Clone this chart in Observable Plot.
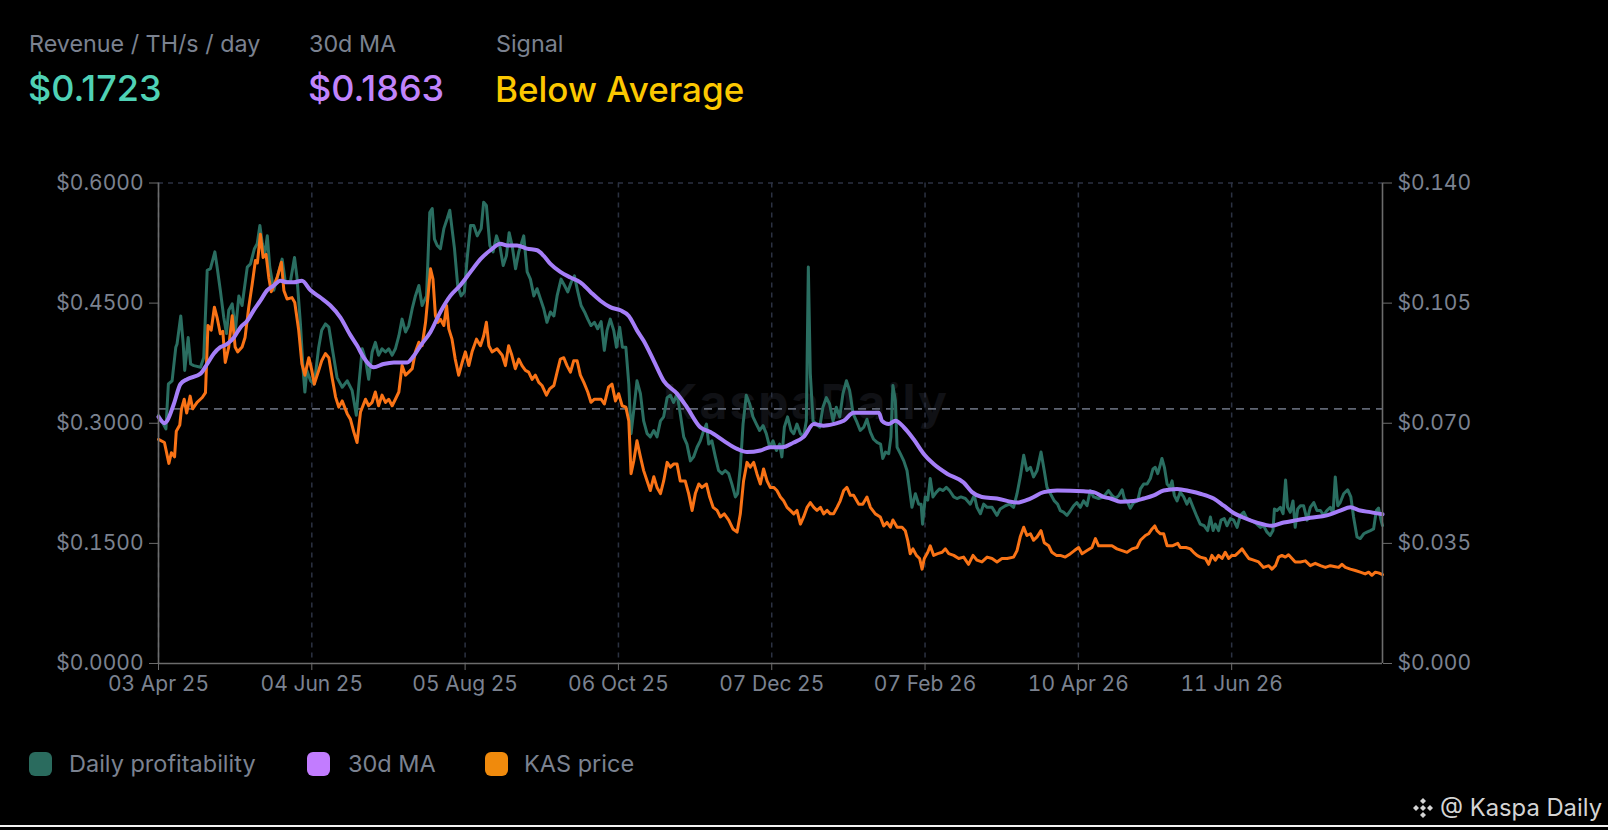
<!DOCTYPE html>
<html>
<head>
<meta charset="utf-8">
<script src="https://cdn.jsdelivr.net/npm/d3@7"></script>
<script src="https://cdn.jsdelivr.net/npm/@observablehq/plot@0.6"></script>
<style>
  html, body { margin:0; padding:0; background:#000; }
  #root { position:relative; width:1608px; height:830px; background:#000; overflow:hidden; font-family:Inter, "Noto Sans", sans-serif; }
  .lbl { position:absolute; font-size:23.3px; line-height:23px; color:#7b8290; white-space:nowrap; }
  .val { position:absolute; font-size:36px; line-height:36px; font-weight:500; white-space:nowrap; }
  .leg { position:absolute; font-size:23.5px; line-height:23px; color:#7b8290; white-space:nowrap; }
  .sw { position:absolute; width:23px; height:24px; border-radius:6px; }
  #chart { position:absolute; left:0; top:160px; z-index:2; }
  #chart svg { overflow:visible; }
  #wm { position:absolute; left:663px; top:378px; font-size:48px; line-height:48px; font-weight:700; letter-spacing:2px; color:#101115; z-index:1; }
  #brand { position:absolute; left:1412px; top:796px; font-size:23.8px; line-height:23px; color:#d4d4d4; white-space:nowrap; display:flex; align-items:center; gap:6px; }
  #bline { position:absolute; left:0; top:825px; width:1608px; height:2px; background:#f2f2f2; }
</style>
</head>
<body>
<div id="root">
  <div class="lbl" style="left:29px;top:32px">Revenue / TH/s / day</div>
  <div class="lbl" style="left:309px;top:32px">30d MA</div>
  <div class="lbl" style="left:496px;top:32px">Signal</div>
  <div class="val" id="v1" style="left:28px;top:70px;color:#4fd1b5"></div>
  <div class="val" id="v2" style="left:308px;top:70px;color:#c084fc"></div>
  <div class="val" id="v3" style="left:495px;top:70.5px;color:#fcc800;font-size:35px"></div>
  <div id="wm">KaspaDaily</div>
  <div id="chart"></div>
  <div class="sw" style="left:29px;top:752px;background:#2a6b5e"></div>
  <div class="leg" style="left:69px;top:752px">Daily profitability</div>
  <div class="sw" style="left:307px;top:752px;background:#c27cff"></div>
  <div class="leg" style="left:348px;top:752px">30d MA</div>
  <div class="sw" style="left:485px;top:752px;background:#f08a0c"></div>
  <div class="leg" style="left:524px;top:752px">KAS price</div>
  <div id="brand">
    <svg width="22" height="22" viewBox="0 0 22 22">
      <g fill="#d4d4d4">
        <path d="M11 1 L14 4 L11 7 L8 4 Z"/>
        <path d="M11 15 L14 18 L11 21 L8 18 Z"/>
        <path d="M1 11 L4 8 L7 11 L4 14 Z"/>
        <path d="M15 11 L18 8 L21 11 L18 14 Z"/>
        <path d="M11 8 L14 11 L11 14 L8 11 Z"/>
      </g>
    </svg>
    <span>@ Kaspa Daily</span>
  </div>
  <div id="bline"></div>
</div>
<script>
// ---- header values ----
const headerLabels = ["Revenue / TH/s / day", "30d MA", "Signal"];
const headerValues = ["$0.1723", "$0.1863", "Below Average"];

// ---- axes ----
const startDate = "2025-04-03";
const totalDays = 495;
const xTickDates = ["2025-04-03","2025-06-04","2025-08-05","2025-10-06","2025-12-07","2026-02-07","2026-04-10","2026-06-11"];
const leftTicks = [0, 0.15, 0.30, 0.45, 0.60];
const rightTicks = [0, 0.035, 0.070, 0.105, 0.140];
const averageLine = 0.318;

// ---- series: [days since start, value] ----
const dailyProfitability = [
[0,.310],[3,.293],[4,.349],[5.5,.353],[7,.395],[7.5,.399],[9,.434],[10,.399],[10.6,.366],[12,.407],[13,.374],[14.3,.372],[17,.370],[18.3,.382],[19.7,.491],[21,.493],[22.8,.514],[23.7,.495],[25,.466],[26.4,.432],[27.5,.412],[28.4,.441],[29.8,.449],[31.1,.416],[32.5,.459],[33.8,.447],[35.9,.495],[37.2,.499],[38.8,.518],[39.9,.524],[41,.547],[42,.524],[42.9,.509],[44,.534],[45,.495],[46.6,.466],[48,.482],[50,.505],[51.3,.476],[53.4,.478],[55,.507],[56,.482],[57.4,.424],[58.5,.366],[59.2,.339],[60,.366],[61.5,.353],[63,.349],[64.8,.395],[66,.416],[67.5,.424],[68.9,.420],[70.2,.395],[72.2,.357],[74.3,.345],[76.3,.353],[78.3,.341],[80,.310],[81,.347],[82.4,.393],[83.7,.380],[85,.355],[86.4,.389],[87.7,.401],[89,.385],[90.4,.393],[91.8,.389],[93.1,.393],[94.5,.385],[95.8,.393],[97.2,.409],[98.5,.430],[99.9,.414],[101.2,.422],[102.6,.443],[103.9,.459],[105.3,.472],[106.6,.447],[108.4,.459],[109.7,.563],[110.7,.568],[111.6,.530],[112.7,.522],[114,.518],[115.4,.543],[116.7,.555],[117.8,.566],[118.7,.543],[119.7,.518],[121,.472],[122.4,.459],[123.7,.464],[124.8,.505],[126.2,.547],[127.5,.547],[128.9,.534],[130.5,.543],[131.5,.576],[132.6,.572],[134,.522],[135.3,.514],[136.7,.534],[138,.522],[139.4,.497],[140.7,.509],[141.8,.538],[143,.522],[144.4,.493],[145.7,.514],[147.7,.534],[149.1,.489],[150.4,.480],[151.8,.459],[153.1,.468],[154.5,.455],[155.8,.443],[157.1,.426],[158.5,.439],[159.9,.434],[161.2,.459],[162.8,.480],[164.2,.472],[165.5,.464],[166.9,.476],[168.2,.484],[169.6,.464],[170.9,.447],[172.3,.439],[173.6,.430],[174.9,.422],[176.3,.426],[177.6,.418],[179,.427],[180.3,.391],[181.4,.416],[182.7,.430],[184.1,.416],[185.2,.395],[186.5,.420],[187.6,.395],[189,.395],[190.2,.349],[191.1,.287],[192.2,.316],[193.5,.353],[194.9,.337],[196.2,.303],[197.6,.287],[198.9,.283],[200.3,.291],[201.6,.283],[203,.303],[204.3,.308],[205.7,.332],[207,.335],[208.3,.326],[209.7,.337],[211,.312],[212.4,.283],[213.7,.274],[215.1,.253],[216.4,.258],[217.8,.270],[219.1,.278],[220.5,.291],[221.6,.299],[222.5,.274],[223.8,.278],[225.2,.258],[226.5,.241],[227.9,.237],[229.2,.241],[230.6,.237],[231.9,.224],[233.3,.208],[234.2,.212],[235.3,.245],[236.4,.299],[237.7,.335],[239.1,.324],[240.4,.308],[241.8,.299],[243.1,.291],[244.5,.297],[245.8,.287],[247.2,.270],[248.5,.278],[249.9,.266],[251.2,.274],[252.1,.258],[253.1,.295],[254.4,.308],[255.8,.291],[256.9,.287],[258.2,.299],[259.6,.287],[260.9,.283],[262,.303],[262.8,.495],[263.6,.362],[264.7,.303],[266,.299],[267.4,.295],[268.7,.320],[270.1,.332],[271.4,.324],[272.8,.303],[274.1,.320],[275.5,.308],[276.8,.337],[278.2,.353],[279.5,.341],[280.9,.312],[282.5,.301],[283.8,.291],[285.2,.295],[286.5,.305],[287.9,.289],[289.2,.280],[290.6,.276],[292,.274],[292.9,.256],[294,.264],[295.3,.262],[296.2,.283],[297,.347],[298,.328],[298.7,.270],[300,.262],[301.4,.253],[302.7,.241],[303.8,.216],[304.7,.195],[306.1,.212],[307.4,.199],[308.4,.199],[309,.174],[310.1,.208],[311.1,.204],[312.1,.231],[313.2,.208],[314.6,.214],[315.9,.218],[317.3,.216],[318.6,.220],[319.9,.216],[321.6,.208],[322.9,.206],[324.5,.208],[326.3,.206],[328.3,.199],[329.9,.210],[331,.195],[332.4,.187],[333.7,.199],[335.1,.195],[337.1,.195],[339.1,.185],[340.4,.193],[342.5,.197],[344.2,.199],[345.8,.195],[347.2,.212],[348.5,.233],[349.9,.260],[351.2,.241],[352.6,.245],[353.9,.233],[355.3,.241],[356.9,.264],[358.2,.241],[359.3,.220],[360.7,.212],[362.3,.203],[363.6,.199],[364.7,.191],[366,.189],[367.4,.185],[368.8,.191],[370.1,.197],[371.4,.201],[372.8,.195],[374.1,.203],[375.5,.197],[376.8,.216],[378.2,.208],[380.2,.206],[382.2,.208],[384.2,.216],[385.6,.210],[387,.206],[388.4,.210],[389.7,.217],[390.6,.206],[392,.201],[393,.194],[394.4,.201],[396,.203],[397.1,.218],[398.4,.224],[399.8,.224],[401.1,.231],[402.2,.243],[403.1,.245],[404.1,.237],[405.2,.249],[405.8,.256],[406.8,.245],[407.9,.224],[409,.220],[409.9,.228],[410.8,.210],[411.9,.203],[413.2,.214],[414.6,.208],[415.9,.199],[417,.206],[418.4,.195],[420,.183],[421.3,.174],[422.9,.172],[424.3,.166],[425.4,.183],[426.5,.166],[427.4,.174],[428.7,.166],[429.7,.179],[431,.181],[432.1,.172],[433.5,.181],[434.8,.179],[436.2,.170],[437.5,.185],[438.9,.189],[440.2,.181],[441.5,.179],[442.9,.177],[444.2,.174],[445.6,.170],[446.9,.172],[448.3,.164],[449.6,.160],[450.7,.166],[451.3,.193],[452.3,.191],[453.7,.195],[454.8,.187],[455.8,.229],[456.6,.195],[457.7,.189],[458.8,.203],[459.7,.170],[460.7,.193],[461.8,.197],[463.1,.197],[464.5,.179],[465.8,.195],[467.2,.201],[468.5,.191],[469.9,.191],[471.2,.185],[472.5,.191],[473.9,.195],[475,.187],[475.9,.233],[476.9,.197],[477.9,.201],[479.3,.212],[480.9,.217],[482.2,.208],[483.3,.183],[484.7,.158],[486,.156],[487.4,.162],[488.7,.164],[490.1,.166],[491.4,.168],[492.5,.191],[493.4,.194],[494.4,.179],[495,.1723]
];

const movingAverage30d = [
[0,.308],[2.5,.300],[3.5,.303],[6.2,.324],[8.9,.349],[11.6,.355],[17,.362],[19.7,.374],[22.4,.387],[25,.395],[27.8,.399],[30.5,.407],[33.2,.420],[35.9,.428],[38.5,.441],[41.2,.453],[43.9,.466],[46.6,.472],[49.3,.478],[52,.476],[54.7,.476],[58,.478],[61.5,.466],[65.5,.457],[69.5,.447],[73.6,.432],[77.6,.410],[80.3,.397],[83,.382],[87,.370],[91,.374],[95.2,.376],[100.6,.376],[103.2,.384],[106,.397],[110,.414],[114,.439],[118,.459],[122,.472],[126.2,.489],[130.2,.505],[134.2,.516],[138.3,.524],[141,.522],[145,.522],[149,.518],[153.1,.516],[155.8,.509],[158.5,.499],[162.5,.489],[166.6,.482],[170.6,.476],[174.7,.464],[178.7,.453],[182.7,.445],[186.8,.441],[190.2,.434],[193.5,.416],[196.2,.403],[200.3,.378],[204.3,.353],[209.7,.337],[213.7,.320],[219.1,.295],[223.2,.289],[228.6,.278],[234,.268],[238,.264],[243.4,.266],[247.4,.270],[252.2,.270],[256.9,.276],[260.9,.283],[265,.299],[269,.297],[273,.299],[277.1,.303],[281.1,.313],[283.8,.313],[291.3,.313],[292.6,.303],[295.3,.299],[298,.303],[301.4,.295],[305.4,.280],[309.4,.262],[313.5,.249],[318.9,.237],[325.6,.226],[329,.214],[333,.208],[339.1,.206],[347.2,.201],[352.6,.206],[358,.214],[363.4,.216],[374.1,.215],[378.2,.214],[382.2,.208],[385,.206],[389,.202],[394.4,.203],[398.4,.206],[402.5,.210],[406.5,.216],[411.9,.218],[417.3,.215],[421.3,.212],[426.7,.206],[430.8,.197],[434.8,.188],[438.9,.182],[444.2,.176],[450.3,.172],[455,.176],[460.4,.179],[465.8,.182],[472.5,.185],[477.9,.191],[482,.195],[486,.191],[490.1,.189],[495,.1863]
];

const kasPrice = [
[0,.0653],[2.4,.0644],[4.2,.0583],[5.2,.0614],[6.5,.0602],[7.2,.0677],[8.6,.0695],[9.3,.0742],[10.4,.0770],[11.4,.0730],[12.8,.0779],[13.8,.0742],[15.6,.0761],[17.7,.0775],[19,.0789],[20,.0985],[21.3,.0971],[22.6,.1038],[23.7,.1008],[25,.0961],[26,.0968],[27,.0877],[28.4,.0922],[29.8,.1013],[31,.0922],[32,.0908],[33.8,.0922],[35,.0950],[36.5,.1038],[37.9,.1106],[39.2,.1174],[40,.1167],[41.2,.1251],[42.3,.1183],[43.5,.1192],[44.6,.1125],[45.6,.1083],[46.9,.1106],[48,.1125],[49.7,.1169],[50.7,.1087],[52,.1062],[54,.1066],[55.1,.1052],[56.7,.0971],[58,.0873],[59.2,.0840],[60.8,.0891],[62,.0854],[63,.0814],[64.8,.0854],[66,.0882],[67.5,.0903],[68.9,.0891],[70.2,.0833],[71.6,.0777],[72.9,.0747],[74.3,.0765],[76.3,.0728],[77.6,.0712],[79,.0674],[80.3,.0644],[81.7,.0733],[83.7,.0770],[85,.0751],[86.4,.0761],[87.7,.0791],[89,.0751],[90.4,.0782],[91.8,.0761],[93.1,.0770],[94.5,.0751],[95.8,.0770],[97.2,.0791],[98.5,.0868],[99.9,.0840],[101.2,.0849],[102.6,.0859],[103.9,.0908],[105.3,.0936],[106.6,.0926],[108,.0994],[109,.1071],[110,.1150],[111,.1120],[112,.1013],[113,.0994],[114,.1003],[115.4,.0985],[116.5,.1043],[117.4,.0975],[118.7,.0945],[120,.0887],[121.4,.0840],[122.8,.0877],[124.1,.0908],[125.5,.0868],[126.8,.0908],[128.6,.0945],[130.2,.0926],[131.5,.0954],[132.6,.0994],[133.6,.0926],[134.9,.0908],[136.9,.0917],[139,.0898],[140.3,.0868],[141.6,.0926],[142.9,.0898],[144.3,.0859],[145.7,.0887],[147,.0868],[148.4,.0854],[149.7,.0849],[151.1,.0828],[152.4,.0840],[153.8,.0819],[155.1,.0810],[156.9,.0782],[158.2,.0800],[159.9,.0810],[161.2,.0849],[162.5,.0887],[163.9,.0891],[165.2,.0868],[166.6,.0849],[167.9,.0882],[169.3,.0882],[170.6,.0840],[172,.0819],[173.6,.0791],[174.9,.0761],[176.3,.0770],[177.6,.0770],[179,.0770],[180.3,.0756],[182,.0805],[183.4,.0814],[184.8,.0765],[186.1,.0786],[187.5,.0751],[189,.0747],[190.2,.0707],[191.1,.0553],[192.2,.0590],[193.5,.0649],[194.9,.0602],[196.2,.0562],[197.6,.0532],[198.9,.0504],[200.3,.0544],[201.6,.0513],[203,.0495],[204.3,.0532],[205.7,.0586],[207,.0572],[208.3,.0581],[209.7,.0581],[211,.0532],[213,.0532],[214.4,.0495],[215.8,.0446],[217.1,.0495],[218.5,.0523],[219.8,.0513],[221.6,.0523],[222.9,.0485],[224.3,.0455],[225.9,.0446],[227.2,.0427],[228.8,.0436],[230.6,.0418],[232.3,.0392],[234,.0383],[235.3,.0436],[236.6,.0532],[238,.0586],[239.3,.0572],[240.7,.0586],[242,.0553],[243.4,.0523],[244.7,.0567],[246.1,.0532],[247.4,.0513],[248.8,.0513],[250.1,.0504],[251.5,.0485],[252.8,.0474],[254.2,.0455],[255.5,.0446],[256.9,.0436],[258.2,.0446],[259.6,.0406],[260.9,.0427],[262.3,.0455],[263.6,.0469],[265,.0455],[266.3,.0446],[267.7,.0455],[269,.0436],[270.4,.0446],[271.7,.0436],[273,.0436],[274.4,.0455],[275.7,.0474],[277.1,.0504],[278.4,.0513],[279.8,.0490],[281.1,.0490],[283.2,.0464],[284.8,.0464],[286.5,.0485],[287.9,.0455],[289.9,.0436],[291.9,.0427],[293.3,.0401],[294.6,.0411],[296,.0397],[297,.0418],[298.7,.0397],[300.7,.0397],[302,.0387],[303,.0359],[304,.0320],[305.1,.0334],[306.5,.0315],[307.8,.0306],[308.8,.0275],[309.7,.0306],[311.1,.0324],[312.1,.0343],[313.5,.0315],[315.1,.0320],[316.9,.0324],[318.2,.0334],[319.6,.0320],[321.6,.0315],[323.6,.0306],[325.6,.0310],[327.6,.0289],[329.4,.0315],[331,.0301],[333,.0296],[335.1,.0310],[337.1,.0306],[339.1,.0296],[341.1,.0306],[343.2,.0306],[345.8,.0310],[347.2,.0329],[348.5,.0369],[349.9,.0397],[351.2,.0373],[352.6,.0378],[353.9,.0359],[355.3,.0369],[356.9,.0387],[358.2,.0352],[360,.0343],[361.3,.0324],[363.1,.0315],[364.7,.0315],[366.7,.0310],[368.8,.0320],[370.4,.0329],[372.1,.0338],[373.5,.0320],[375.5,.0329],[377.5,.0338],[378.9,.0364],[380.2,.0343],[382.2,.0343],[384.2,.0343],[385.6,.0343],[387.6,.0334],[389.7,.0329],[391.7,.0324],[393.7,.0334],[395.7,.0338],[397.1,.0359],[399.1,.0373],[400.4,.0378],[401.8,.0392],[402.9,.0401],[403.8,.0387],[405.2,.0378],[406.5,.0378],[407.9,.0343],[410,.0343],[412.2,.0350],[413.2,.0338],[415.5,.0338],[417.3,.0334],[418.6,.0324],[420,.0315],[421.3,.0310],[423.4,.0306],[424.7,.0289],[426,.0315],[427.4,.0301],[428.7,.0315],[430.1,.0306],[431.4,.0324],[432.8,.0306],[434.1,.0315],[435.5,.0315],[436.8,.0324],[438.2,.0334],[439.5,.0320],[440.9,.0306],[442.9,.0301],[444.9,.0296],[446.9,.0280],[449,.0285],[450.3,.0275],[451.7,.0285],[453,.0310],[454.3,.0315],[455.7,.0310],[457,.0317],[458.4,.0306],[459.7,.0296],[461.8,.0296],[463.8,.0299],[465.8,.0285],[467.8,.0292],[469.9,.0285],[471.9,.0280],[473.9,.0285],[475.9,.0282],[477.3,.0280],[478.6,.0289],[480,.0280],[482,.0275],[484,.0271],[486,.0266],[488,.0261],[489.4,.0266],[490.7,.0257],[492.1,.0266],[493.4,.0264],[495,.0259]
];

// ---- build ----
document.getElementById("v1").textContent = headerValues[0];
document.getElementById("v2").textContent = headerValues[1];
document.getElementById("v3").textContent = headerValues[2];

const DAY = 864e5;
const t0 = new Date(startDate + "T00:00:00Z").getTime();
const toDate = d => new Date(t0 + d * DAY);
const leftMax = leftTicks[leftTicks.length - 1];
const rightMax = rightTicks[rightTicks.length - 1];
const k = leftMax / rightMax; // right-axis value -> left-axis position

const profitRows = dailyProfitability.map(([d, v]) => ({date: toDate(d), value: v}));
const maRows = movingAverage30d.map(([d, v]) => ({date: toDate(d), value: v}));
const priceRows = kasPrice.map(([d, p]) => ({date: toDate(d), value: p * k}));
const ticksX = xTickDates.map(s => new Date(s + "T00:00:00Z"));
const x0 = toDate(0), x1 = toDate(totalDays);

const axisColor = "#6c6c6c";
const textColor = "#7b8290";
const gridColor = "#2b3141";

const chart = Plot.plot({
  width: 1608,
  height: 553,
  marginLeft: 158,
  marginRight: 226,
  marginTop: 22.5,
  marginBottom: 50,
  style: {background: "transparent", color: textColor, fontFamily: "Inter, 'Noto Sans', sans-serif", fontSize: "21px", overflow: "visible"},
  x: {type: "utc", domain: [x0, x1]},
  y: {domain: [0, leftMax]},
  marks: [
    Plot.ruleX(ticksX, {stroke: gridColor, strokeWidth: 1.5, strokeDasharray: "5,5"}),
    Plot.ruleY([leftMax], {stroke: gridColor, strokeWidth: 1.5, strokeDasharray: "5,5"}),
    Plot.ruleY([averageLine], {stroke: "#5f6573", strokeWidth: 1.8, strokeDasharray: "8,6"}),
    Plot.lineY(profitRows, {x: "date", y: "value", stroke: "#2a6e61", strokeWidth: 3, strokeLinejoin: "round"}),
    Plot.lineY(priceRows, {x: "date", y: "value", stroke: "#f97316", strokeWidth: 3, strokeLinejoin: "round"}),
    Plot.lineY(maRows, {x: "date", y: "value", stroke: "#a57ef8", strokeWidth: 4, strokeLinejoin: "round", curve: "monotone-x"}),
    Plot.ruleX([x0, x1], {stroke: axisColor, strokeWidth: 1.6}),
    Plot.ruleY([0], {stroke: axisColor, strokeWidth: 1.6}),
    Plot.axisY(leftTicks, {anchor: "left", label: null, tickSize: 9, tickPadding: 6, stroke: axisColor, fill: textColor, tickFormat: d => "$" + d.toFixed(4)}),
    Plot.axisY(rightTicks.map(t => t * k), {anchor: "right", label: null, tickSize: 9, tickPadding: 6, stroke: axisColor, fill: textColor, tickFormat: d => "$" + (d / k).toFixed(3)}),
    Plot.axisX(ticksX, {anchor: "bottom", label: null, tickSize: 7, tickPadding: 6, stroke: axisColor, fill: textColor, tickFormat: d3.utcFormat("%d %b %y")})
  ]
});
document.getElementById("chart").appendChild(chart);
</script>
</body>
</html>
